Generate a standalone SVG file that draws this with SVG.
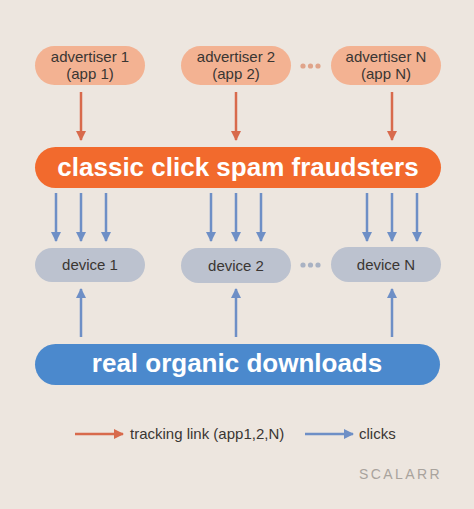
<svg xmlns="http://www.w3.org/2000/svg" width="474" height="509" viewBox="0 0 474 509">
<style>
.adv{fill:#f3b292}
.dev{fill:#bcc2cf}
.t{font-family:"Liberation Sans",Arial,sans-serif;font-size:15px;fill:#3a3633;text-anchor:middle}
.big{font-family:"Liberation Sans",Arial,sans-serif;font-size:26px;font-weight:bold;fill:#ffffff;text-anchor:middle}
.oa{stroke:#d86a4c;stroke-width:2.5;fill:none}
.ba{stroke:#6e8fc6;stroke-width:2.5;fill:none}
.dot{fill:#e0a48a}
.bdot{fill:#a9b2c3}
</style>
<defs>
<marker id="mo" viewBox="0 0 10 10" refX="9" refY="5" markerWidth="4" markerHeight="4" orient="auto" markerUnits="strokeWidth"><path d="M0,0 L10,5 L0,10 z" fill="#d86a4c"/></marker>
<marker id="mb" viewBox="0 0 10 10" refX="9" refY="5" markerWidth="4" markerHeight="4" orient="auto" markerUnits="strokeWidth"><path d="M0,0 L10,5 L0,10 z" fill="#6e8fc6"/></marker>
</defs>
<rect width="474" height="509" fill="#ede6df"/>
<g id="adv1"><rect class="adv" x="35" y="46" width="110" height="39" rx="19.5"/><text class="t" x="90" y="62">advertiser 1</text><text class="t" x="90" y="79">(app 1)</text></g>
<g id="adv2"><rect class="adv" x="181" y="46" width="110" height="39" rx="19.5"/><text class="t" x="236" y="62">advertiser 2</text><text class="t" x="236" y="79">(app 2)</text></g>
<g id="advN"><rect class="adv" x="331" y="46" width="110" height="39" rx="19.5"/><text class="t" x="386" y="62">advertiser N</text><text class="t" x="386" y="79">(app N)</text></g>
<g id="dots1"><circle class="dot" cx="303" cy="66" r="2.6"/><circle class="dot" cx="310.5" cy="66" r="2.6"/><circle class="dot" cx="318" cy="66" r="2.6"/></g>
<g id="fraud"><rect x="35" y="147" width="406" height="41" rx="20.5" fill="#f26a2d"/><text class="big" x="238" y="176">classic click spam fraudsters</text></g>
<g id="dev1"><rect class="dev" x="35" y="248" width="110" height="34" rx="17"/><text class="t" x="90" y="270">device 1</text></g>
<g id="dev2"><rect class="dev" x="181" y="248" width="110" height="35" rx="17.5"/><text class="t" x="236" y="271">device 2</text></g>
<g id="devN"><rect class="dev" x="331" y="247" width="110" height="35" rx="17.5"/><text class="t" x="386" y="270">device N</text></g>
<g id="dots2"><circle class="bdot" cx="303" cy="265" r="2.6"/><circle class="bdot" cx="310.5" cy="265" r="2.6"/><circle class="bdot" cx="318" cy="265" r="2.6"/></g>
<g id="organic"><rect x="35" y="344" width="405" height="41" rx="20.5" fill="#4b89cd"/><text class="big" x="237" y="372">real organic downloads</text></g>
<g id="connectors">
<line class="oa" x1="81" y1="92" x2="81" y2="140" marker-end="url(#mo)"/>
<line class="oa" x1="236" y1="92" x2="236" y2="140" marker-end="url(#mo)"/>
<line class="oa" x1="392" y1="92" x2="392" y2="140" marker-end="url(#mo)"/>
<line class="ba" x1="56" y1="193" x2="56" y2="241" marker-end="url(#mb)"/>
<line class="ba" x1="81" y1="193" x2="81" y2="241" marker-end="url(#mb)"/>
<line class="ba" x1="106" y1="193" x2="106" y2="241" marker-end="url(#mb)"/>
<line class="ba" x1="211" y1="193" x2="211" y2="241" marker-end="url(#mb)"/>
<line class="ba" x1="236" y1="193" x2="236" y2="241" marker-end="url(#mb)"/>
<line class="ba" x1="261" y1="193" x2="261" y2="241" marker-end="url(#mb)"/>
<line class="ba" x1="367" y1="193" x2="367" y2="241" marker-end="url(#mb)"/>
<line class="ba" x1="392" y1="193" x2="392" y2="241" marker-end="url(#mb)"/>
<line class="ba" x1="417" y1="193" x2="417" y2="241" marker-end="url(#mb)"/>
<line class="ba" x1="81" y1="337" x2="81" y2="289" marker-end="url(#mb)"/>
<line class="ba" x1="236" y1="337" x2="236" y2="289" marker-end="url(#mb)"/>
<line class="ba" x1="392" y1="337" x2="392" y2="289" marker-end="url(#mb)"/>
</g>
<g id="legend">
<line class="oa" x1="75" y1="434" x2="123" y2="434" marker-end="url(#mo)"/>
<text class="t" x="130" y="439" style="text-anchor:start">tracking link (app1,2,N)</text>
<line class="ba" x1="305" y1="434" x2="353" y2="434" marker-end="url(#mb)"/>
<text class="t" x="359" y="439" style="text-anchor:start">clicks</text>
<text x="359" y="479" style="font-family:'Liberation Sans',Arial,sans-serif;font-size:14px;letter-spacing:2.4px;fill:#a9a39d">SCALARR</text>
</g>
</svg>
